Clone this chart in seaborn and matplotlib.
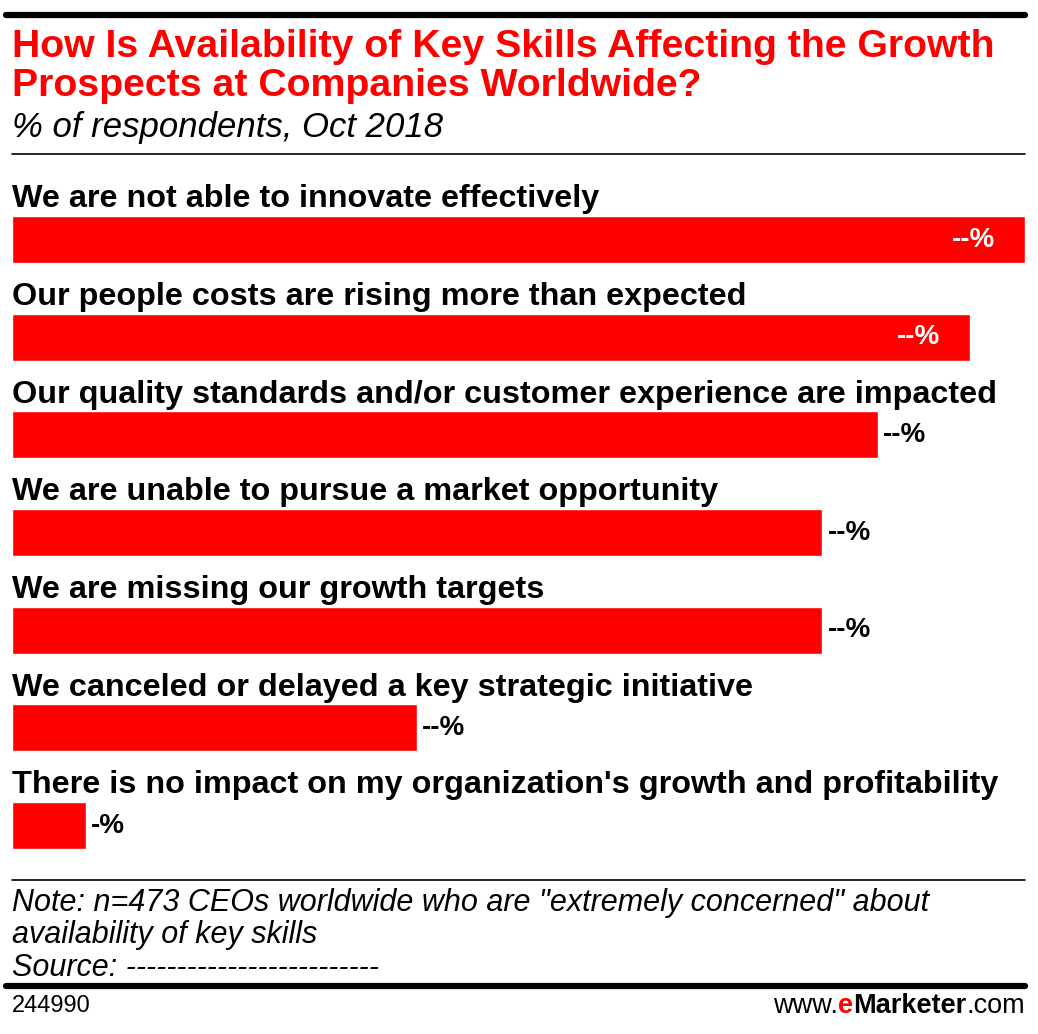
import matplotlib
matplotlib.use("Agg")
import matplotlib.pyplot as plt
from matplotlib.lines import Line2D
import seaborn as sns

categories = [
    "We are not able to innovate effectively",
    "Our people costs are rising more than expected",
    "Our quality standards and/or customer experience are impacted",
    "We are unable to pursue a market opportunity",
    "We are missing our growth targets",
    "We canceled or delayed a key strategic initiative",
    "There is no impact on my organization's growth and profitability",
]
values = [55, 52, 47, 44, 44, 22, 4]
value_labels = ["--%", "--%", "--%", "--%", "--%", "--%", "-%"]
inside = [True, True, False, False, False, False, False]

title = "How Is Availability of Key Skills Affecting the Growth\nProspects at Companies Worldwide?"
subtitle = "% of respondents, Oct 2018"
note = ('Note: n=473 CEOs worldwide who are "extremely concerned" about\n'
        'availability of key skills\nSource: -------------------------')
chart_id = "244990"

RED = "#ff0000"

sns.set_style("white")
plt.rcParams["font.family"] = ["Liberation Sans", "DejaVu Sans"]

W, H = 1038, 1034
fig = plt.figure(figsize=(W / 100, H / 100), dpi=100)

def fx(px):
    return px / W

def fy(py):
    return 1 - py / H

# bars area
top_px, bot_px = 169.2, 864.6
ax = fig.add_axes([fx(12), fy(bot_px), fx(1013), (bot_px - top_px) / H])
sns.barplot(x=values, y=categories, orient="h", color=RED, saturation=1,
            width=0.48, ax=ax)
ax.set_xlim(0, 55)
ax.set_ylim(6.4, -0.72)
ax.set_xlabel("")
ax.set_ylabel("")
ax.set_xticks([])
ax.set_yticks([])
for s in ax.spines.values():
    s.set_visible(False)

for i, (cat, v, lab, ins) in enumerate(zip(categories, values, value_labels, inside)):
    ax.text(0, i - 0.41, cat, fontsize=23.3, fontweight="bold", color="black",
            ha="left", va="center", clip_on=False)
    if ins:
        ax.annotate(lab, (v, i), xytext=(-30, 0), textcoords="offset pixels",
                    ha="right", va="center", fontsize=20, fontweight="bold",
                    color="white")
    else:
        ax.annotate(lab, (v, i), xytext=(5, 0), textcoords="offset pixels",
                    ha="left", va="center", fontsize=20, fontweight="bold",
                    color="black")

# header
fig.add_artist(Line2D([fx(6), fx(1025)], [fy(15), fy(15)], color="black", lw=4.5))
fig.text(fx(12), fy(29), title, color=RED, fontsize=28.3, fontweight="bold",
         ha="left", va="top", linespacing=1.12)
fig.text(fx(12), fy(127), subtitle, color="black", fontsize=25, style="italic",
         ha="left", va="center")
fig.add_artist(Line2D([fx(12), fx(1025)], [fy(154), fy(154)], color="black", lw=1.2))

# footer
fig.add_artist(Line2D([fx(12), fx(1025)], [fy(880), fy(880)], color="black", lw=1.2))
fig.text(fx(12), fy(888), note, color="black", fontsize=22, style="italic",
         ha="left", va="top", linespacing=1.1)
fig.add_artist(Line2D([fx(6), fx(1025)], [fy(986), fy(986)], color="black", lw=4.5))
fig.text(fx(12), fy(1006), chart_id, color="black", fontsize=17, ha="left", va="center")

# www.eMarketer.com, built right to left
renderer = fig.canvas.get_renderer()
x_right = fx(1025)
parts = [(".com", "black", "normal"), ("Marketer", "black", "bold"),
         ("e", RED, "bold"), ("www.", "black", "normal")]
for txt, col, wt in parts:
    t = fig.text(x_right, fy(1006), txt, color=col, fontsize=19.5, fontweight=wt,
                 ha="right", va="center")
    bb = t.get_window_extent(renderer=renderer)
    x_right -= bb.width / fig.bbox.width

fig.savefig("out.png", dpi=100)
